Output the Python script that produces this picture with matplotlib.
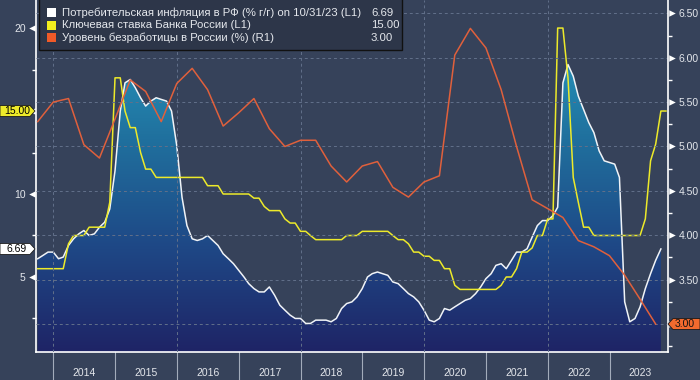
import matplotlib
matplotlib.use('Agg')
import matplotlib.pyplot as plt
import matplotlib.dates as mdates
import numpy as np
import pandas as pd
from matplotlib.patches import Polygon, Rectangle
from matplotlib.colors import LinearSegmentedColormap
from matplotlib.transforms import blended_transform_factory, IdentityTransform

plt.rcParams['font.family'] = ['Liberation Sans', 'DejaVu Sans']

# ---------------- data ----------------
cpi_start = '2013-09-30'          # monthly, month-end
cpi = [6.1, 6.3, 6.5, 6.5,
       6.1, 6.2, 6.9, 7.3, 7.6, 7.8, 7.5, 7.6, 8.0, 8.3, 9.1, 11.4,
       15.0, 16.7, 16.9, 16.4, 15.8, 15.3, 15.6, 15.8, 15.7, 15.6, 15.0, 12.9,
       9.8, 8.1, 7.3, 7.2, 7.3, 7.5, 7.2, 6.9, 6.4, 6.1, 5.8, 5.4,
       5.0, 4.6, 4.3, 4.1, 4.1, 4.4, 3.9, 3.3, 3.0, 2.7, 2.5, 2.5,
       2.2, 2.2, 2.4, 2.4, 2.4, 2.3, 2.5, 3.1, 3.4, 3.5, 3.8, 4.3,
       5.0, 5.2, 5.3, 5.2, 5.1, 4.7, 4.6, 4.3, 4.0, 3.8, 3.5, 3.0,
       2.4, 2.3, 2.5, 3.1, 3.0, 3.2, 3.4, 3.6, 3.7, 4.0, 4.4, 4.9,
       5.2, 5.7, 5.8, 5.5, 6.0, 6.5, 6.5, 6.7, 7.4, 8.1, 8.4, 8.4,
       8.7, 9.2, 16.7, 17.8, 17.1, 15.9, 15.1, 14.3, 13.7, 12.6, 12.0, 11.9,
       11.8, 11.0, 3.5, 2.3, 2.5, 3.2, 4.3, 5.2, 6.0, 6.69]

rate_start = '2013-09-30'         # monthly, month-end
key_rate = [5.5, 5.5, 5.5, 5.5,
            5.5, 5.5, 7.0, 7.5, 7.5, 7.5, 8.0, 8.0, 8.0, 8.0, 9.5, 17.0,
            17.0, 15.0, 14.0, 14.0, 12.5, 11.5, 11.5, 11.0, 11.0, 11.0, 11.0, 11.0,
            11.0, 11.0, 11.0, 11.0, 11.0, 10.5, 10.5, 10.5, 10.0, 10.0, 10.0, 10.0,
            10.0, 10.0, 9.75, 9.75, 9.25, 9.0, 9.0, 9.0, 8.5, 8.25, 8.25, 7.75,
            7.75, 7.5, 7.25, 7.25, 7.25, 7.25, 7.25, 7.25, 7.5, 7.5, 7.5, 7.75,
            7.75, 7.75, 7.75, 7.75, 7.75, 7.5, 7.25, 7.25, 7.0, 6.5, 6.5, 6.25,
            6.25, 6.0, 6.0, 5.5, 5.5, 4.5, 4.25, 4.25, 4.25, 4.25, 4.25, 4.25,
            4.25, 4.25, 4.5, 5.0, 5.0, 5.5, 6.5, 6.5, 6.75, 7.5, 7.5, 8.5,
            8.5, 20.0, 20.0, 17.0, 11.0, 9.5, 8.0, 8.0, 7.5, 7.5, 7.5, 7.5,
            7.5, 7.5, 7.5, 7.5, 7.5, 7.5, 8.5, 12.0, 13.0, 15.0, 15.0]

unemp_start = '2013-09-30'        # quarterly, quarter-end
unemp = [5.28, 5.50,
         5.54, 5.02, 4.87, 5.31,
         5.75, 5.62, 5.28, 5.71,
         5.88, 5.64, 5.23, 5.38,
         5.54, 5.20, 5.00, 5.07,
         5.07, 4.78, 4.60, 4.78,
         4.83, 4.54, 4.43, 4.60,
         4.67, 6.03, 6.33, 6.11,
         5.64, 5.00, 4.40, 4.30,
         4.20, 3.94, 3.87, 3.77,
         3.55, 3.28, 3.00]

years = list(range(2014, 2024))
grid_years = [2014, 2016, 2018, 2020, 2022]
left_ticks = [5, 10, 15, 20]
left_tick_labels = ['5', '10', '', '20']          # 15 is shown by the tag
left_minor = [2.5, 7.5, 12.5, 17.5]
right_ticks = [3.0, 3.5, 4.0, 4.5, 5.0, 5.5, 6.0, 6.5]
right_tick_labels = ['', '3.50', '4.00', '4.50', '5.00', '5.50', '6.00', '6.50']  # 3.00 shown by tag
right_minor = [2.75, 3.25, 3.75, 4.25, 4.75, 5.25, 5.75, 6.25]

legend_labels = ['Потребительская инфляция в РФ (% г/г) on 10/31/23 (L1)',
                 'Ключевая ставка Банка России (L1)',
                 'Уровень безработицы в России (%) (R1)']
legend_values = ['6.69', '15.00', '3.00']
tag_left = [(15.00, '15.00'), (6.69, '6.69')]
tag_right = [(3.00, '3.00')]

# ---------------- style ----------------
BG = '#36425A'
LEG_BG = '#2D3649'
WHITE = '#F0F3F7'
YELLOW = '#EDEA2A'
ORANGE = '#E0603C'
TXT = '#E4E7EC'
GRID = '#62708A'

W, H = 700, 380
fig = plt.figure(figsize=(W / 100, H / 100), dpi=100)
fig.patch.set_facecolor(BG)

ax = fig.add_axes([36 / W, 28 / H, 632 / W, 352 / H])
ax.set_facecolor(BG)
ax2 = ax.twinx()
ax2.patch.set_visible(False)

cpi_dates = pd.date_range(cpi_start, periods=len(cpi), freq='ME')
rate_dates = pd.date_range(rate_start, periods=len(key_rate), freq='ME')
unemp_dates = pd.date_range(unemp_start, periods=len(unemp), freq='QE')

x0 = mdates.date2num(pd.Timestamp('2013-09-20'))
x1 = mdates.date2num(pd.Timestamp('2023-12-12'))
ax.set_xlim(x0, x1)
ax.set_ylim(0.48, 21.69)
ax2.set_ylim(2.685, 6.65)

# gradient fill under CPI
cx = mdates.date2num(cpi_dates)
poly = ax.fill_between(cx, cpi, 0.48, color='none', lw=0)
cmap = LinearSegmentedColormap.from_list('g', [(0.0, '#1F2466'), (0.30, '#1E4886'),
                                               (0.62, '#20729F'), (0.85, '#2590B8'),
                                               (1.0, '#2A9BC2')])
grad = np.linspace(0, 1, 256).reshape(-1, 1)
im = ax.imshow(grad, extent=[x0, x1, 0.48, 21.69], origin='lower', aspect='auto',
               cmap=cmap, zorder=1)
im.set_clip_path(poly.get_paths()[0], transform=ax.transData)

ax.plot(cx, cpi, color=WHITE, lw=1.1, zorder=3)
ax.plot(mdates.date2num(rate_dates), key_rate, color=YELLOW, lw=1.1, zorder=4)
ax2.plot(mdates.date2num(unemp_dates), unemp, color=ORANGE, lw=1.1, zorder=3)

# grid
for v in right_ticks:
    ax2.axhline(v, color=GRID, lw=0.7, ls=(0, (3, 3)), zorder=1)
for yv in grid_years:
    ax2.axvline(mdates.date2num(pd.Timestamp(f'{yv}-01-01')), color=GRID, lw=0.7,
                ls=(0, (3, 3)), zorder=1)

# spines
for a in (ax, ax2):
    a.spines['top'].set_visible(False)
ax.spines['right'].set_visible(False)
ax2.spines['left'].set_visible(False)
ax2.spines['bottom'].set_visible(False)
for s in (ax.spines['left'], ax.spines['bottom'], ax2.spines['right']):
    s.set_color('white')
    s.set_linewidth(1.2)

# x axis: year labels between separators
ax.set_xticks([])
bt = blended_transform_factory(ax.transData, ax.transAxes)
for yv in years:
    xs = mdates.date2num(pd.Timestamp(f'{yv}-01-01'))
    ax.plot([xs, xs], [0, -28 / 352], transform=bt, clip_on=False, color='#A3ACBB', lw=0.8)
    xm = mdates.date2num(pd.Timestamp(f'{yv}-07-02'))
    ax.text(xm, -21 / 352, str(yv), transform=bt, ha='center', va='center',
            color=TXT, fontsize=7.5)

# left axis ticks
ax.set_yticks(left_ticks)
ax.set_yticklabels(left_tick_labels)
ax.set_yticks(left_minor, minor=True)
ax.tick_params(axis='y', which='major', length=0, pad=7.5, labelsize=7.5, labelcolor=TXT)
ax.tick_params(axis='y', which='minor', length=3, width=1, color='white', direction='out')
bl = blended_transform_factory(ax.transAxes, ax.transData)
ax.scatter([-4 / 632] * len(left_ticks), left_ticks, marker='<', s=22, color='white',
           transform=bl, clip_on=False, zorder=5, linewidths=0)

# right axis ticks
ax2.set_yticks(right_ticks)
ax2.set_yticklabels(right_tick_labels)
ax2.set_yticks(right_minor, minor=True)
ax2.tick_params(axis='y', which='major', length=0, pad=7.5, labelsize=7.5, labelcolor=TXT)
ax2.tick_params(axis='y', which='minor', length=3, width=1, color='white', direction='out')
br = blended_transform_factory(ax2.transAxes, ax2.transData)
ax2.scatter([1 + 4 / 632] * len(right_ticks), right_ticks, marker='>', s=22, color='white',
            transform=br, clip_on=False, zorder=5, linewidths=0)

# value tags
for val, txt in tag_left:
    y = ax.transData.transform((x0, val))[1]
    col = YELLOW if txt == '15.00' else 'white'
    fig.add_artist(Polygon([(0, y - 5.5), (30, y - 5.5), (35, y), (30, y + 5.5), (0, y + 5.5)],
                           closed=True, transform=IdentityTransform(), facecolor=col,
                           edgecolor='#1a1a1a', lw=0.6, zorder=10))
    fig.text(17 / W, y / H, txt, ha='center', va='center', fontsize=7.5, color='black', zorder=11)
for val, txt in tag_right:
    y = ax2.transData.transform((x0, val))[1]
    fig.add_artist(Polygon([(668, y), (673, y - 5.5), (700, y - 5.5), (700, y + 5.5), (673, y + 5.5)],
                           closed=True, transform=IdentityTransform(), facecolor='#F26A2E',
                           edgecolor='#1a1a1a', lw=0.6, zorder=10))
    fig.text(685 / W, y / H, txt, ha='center', va='center', fontsize=7.5, color='#111111', zorder=11)

# legend box
fig.add_artist(Rectangle((39, H - 50), 363, 52, transform=IdentityTransform(),
                         facecolor=LEG_BG, edgecolor='#111111', lw=1.0, zorder=8))
leg_cols = ['white', '#F2EE1E', '#F05A28']
for i, (lab, val, c) in enumerate(zip(legend_labels, legend_values, leg_cols)):
    yc = H - (12.5 + 12.7 * i)
    fig.add_artist(Rectangle((47, yc - 4.5), 9, 9, transform=IdentityTransform(),
                             facecolor=c, edgecolor='none', zorder=9))
    fig.text(62 / W, yc / H, lab, ha='left', va='center', fontsize=8.2, color=TXT, zorder=9)
    fig.text(371 / W, yc / H, val, ha='left', va='center', fontsize=8.2, color=TXT, zorder=9)

fig.savefig('out.png', dpi=100, facecolor=BG)
